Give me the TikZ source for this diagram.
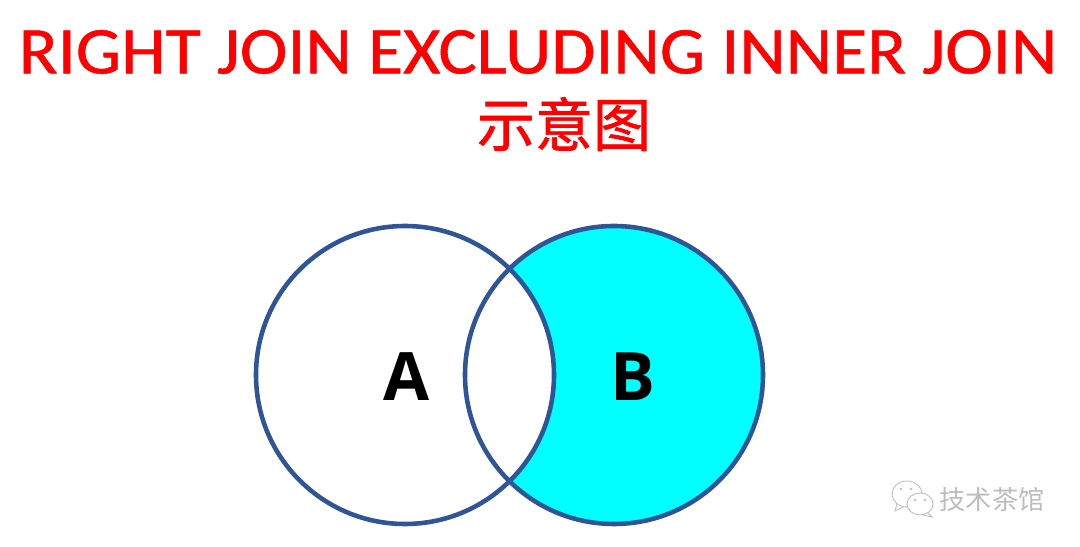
\documentclass[tikz,border=0pt]{standalone}
\usepackage{fontspec}
\setmainfont{Carlito}
\newfontfamily\titlefont[FakeBold=0.8]{Carlito}
\newfontfamily\cjk{Noto Sans CJK SC}
\newfontfamily\cjkbold[FakeBold=1.2]{Noto Sans CJK SC}
\newfontfamily\labelfont{Open Sans}

\definecolor{setblue}{HTML}{2F5597}
\definecolor{setcyan}{HTML}{00FFFF}
\definecolor{markgray}{HTML}{BDBDBD}

\tikzset{
  title/.style={text=red,inner sep=0pt,anchor=center},
  setline/.style={draw=setblue,line width=2.6pt},
  setlabel/.style={inner sep=0pt,anchor=center,font=\labelfont\bfseries\fontsize{38}{38}\selectfont},
  bubble/.style={draw=markgray,fill=white,line width=0.5pt}
}

\begin{document}
\begin{tikzpicture}[x=0.02cm,y=-0.02cm]

\useasboundingbox (0,0) rectangle (1080,547);

\coordinate (A) at (405,375);
\coordinate (B) at (614,375);

\fill[setcyan] (B) circle (149);
\fill[white] (A) circle (149);

\draw[setline] (A) circle (149);
\draw[setline] (B) circle (149);

\node[setlabel] (labelA) at (407,377) {A};
\node[setlabel] (labelB) at (633,377) {B};

\node[title,font=\titlefont\fontsize{38}{38}\selectfont] (title) at (538,52)
  {\scalebox{1.075}[1]{RIGHT JOIN EXCLUDING INNER JOIN}};
\node[title,font=\cjkbold\fontsize{33}{33}\selectfont] (subtitle) at (564,124) {示意图};

\coordinate (M1) at (907,494);
\coordinate (M2) at (920,504);

\draw[bubble] (M1) ellipse (15 and 13);
\draw[markgray,line width=0.5pt] (897,504) -- (895,511) -- (903,507);
\draw[bubble] (M2) ellipse (13 and 11);
\draw[markgray,line width=0.5pt] (928,513) -- (932,517) -- (923,515);

\foreach \x in {901,911}
{
  \fill[markgray] (\x,489) circle (1.3);
}
\foreach \x in {915,925}
{
  \fill[markgray] (\x,500) circle (1.3);
}

\node[text=markgray,inner sep=0pt,font=\cjk\fontsize{14.9}{14.9}\selectfont] (mark) at (992,500) {技术茶馆};

\end{tikzpicture}
\end{document}
